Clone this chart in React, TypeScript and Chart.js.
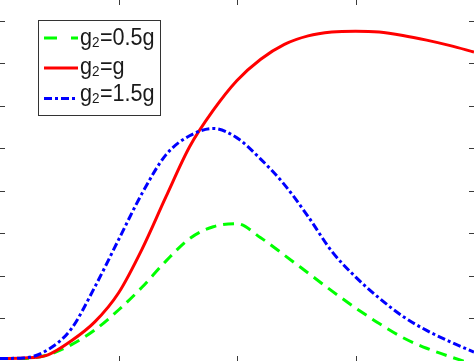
import React, { useEffect, useRef } from "react";
import { Chart, registerables } from "chart.js";

Chart.register(...registerables);

// x positions (axis units, one unit per x tick spacing)
const xValues = [0, 0.2, 0.4, 0.6, 0.8, 1.0, 1.2, 1.4, 1.6, 1.8, 2.0, 2.2, 2.4, 2.6, 2.8, 3.0, 3.2, 3.4, 3.6, 3.8, 4.0];

// series values (axis units, one unit per y tick spacing)
const g05 = [0.06, 0.06, 0.14, 0.38, 0.73, 1.2, 1.74, 2.35, 2.88, 3.16, 3.23, 2.9, 2.49, 2.07, 1.65, 1.25, 0.88, 0.55, 0.3, 0.1, -0.08];
const g10 = [0.06, 0.07, 0.14, 0.47, 0.92, 1.6, 2.64, 3.86, 5.04, 5.9, 6.6, 7.1, 7.45, 7.65, 7.74, 7.76, 7.74, 7.66, 7.55, 7.42, 7.27];
const g15 = [0.06, 0.07, 0.26, 0.75, 1.74, 2.85, 3.95, 4.85, 5.3, 5.47, 5.25, 4.75, 4.15, 3.4, 2.58, 1.98, 1.48, 1.05, 0.72, 0.45, 0.21];

const xTicks = [1, 2, 3];
const yTicks = [1, 2, 3, 4, 5, 6, 7, 8];
const xMin = 0;
const xMax = 4;
const yMin = 0;
const yMax = 8.494;

const legendRest = ["=0.5g", "=g", "=1.5g"];
const seriesColors = ["#00ff00", "#ff0000", "#0000ff"];
const seriesDashes: number[][] = [[11, 7], [], [8, 3, 3, 3]];

const toPoints = (ys: number[]) => ys.map((y, i) => ({ x: xValues[i], y }));

const tickPlugin = {
  id: "inwardTicks",
  afterDatasetsDraw(chart: any) {
    const { ctx, chartArea: a, scales } = chart;
    const x = scales.x;
    const y = scales.y;
    ctx.save();
    ctx.strokeStyle = "#3a3a3a";
    ctx.lineWidth = 1;
    ctx.beginPath();
    for (const v of xTicks) {
      const px = Math.round(x.getPixelForValue(v)) + 0.5;
      ctx.moveTo(px, a.bottom);
      ctx.lineTo(px, a.bottom - 5);
      ctx.moveTo(px, a.top);
      ctx.lineTo(px, a.top + 5);
    }
    for (const v of yTicks) {
      const py = Math.round(y.getPixelForValue(v)) + 0.5;
      ctx.moveTo(a.left, py);
      ctx.lineTo(a.left + 5, py);
      ctx.moveTo(a.right, py);
      ctx.lineTo(a.right - 5, py);
    }
    ctx.stroke();
    ctx.restore();
  },
};

const legendPlugin = {
  id: "customLegend",
  afterDraw(chart: any) {
    const { ctx } = chart;
    const left = 38.5;
    const top = 20.5;
    const right = 160.5;
    const bottom = 115.5;
    ctx.save();
    ctx.fillStyle = "#ffffff";
    ctx.fillRect(left, top, right - left, bottom - top);
    ctx.strokeStyle = "#333333";
    ctx.lineWidth = 1;
    ctx.strokeRect(left, top, right - left, bottom - top);

    const lineYs = [38, 68, 98.5];
    const baselines = [44.5, 73.5, 101];
    for (let i = 0; i < 3; i++) {
      ctx.save();
      ctx.strokeStyle = seriesColors[i];
      ctx.lineWidth = 3;
      ctx.setLineDash(i === 0 ? [13, 14] : seriesDashes[i]);
      ctx.beginPath();
      ctx.moveTo(44, lineYs[i]);
      ctx.lineTo(78, lineYs[i]);
      ctx.stroke();
      ctx.restore();

      ctx.save();
      ctx.translate(80, baselines[i]);
      ctx.scale(0.9, 1);
      ctx.fillStyle = "#1a1a1a";
      ctx.textBaseline = "alphabetic";
      ctx.font = '24px "Liberation Sans", Arial, Helvetica, sans-serif';
      ctx.fillText("g", 0, 0);
      const w1 = ctx.measureText("g").width;
      ctx.font = '15px "Liberation Sans", Arial, Helvetica, sans-serif';
      ctx.fillText("2", w1, 2);
      const w2 = ctx.measureText("2").width;
      ctx.font = '24px "Liberation Sans", Arial, Helvetica, sans-serif';
      ctx.fillText(legendRest[i], w1 + w2 + 0.5, 0);
      ctx.restore();
    }
    ctx.restore();
  },
};

export default function App() {
  const ref = useRef<HTMLCanvasElement | null>(null);

  useEffect(() => {
    if (!ref.current) return;
    const chart = new Chart(ref.current, {
      type: "line",
      data: {
        datasets: [
          {
            label: "g2=0.5g",
            data: toPoints(g05),
            borderColor: seriesColors[0],
            borderWidth: 3,
            borderDash: seriesDashes[0],
            pointRadius: 0,
            cubicInterpolationMode: "monotone",
            fill: false,
            order: 3,
          },
          {
            label: "g2=g",
            data: toPoints(g10),
            borderColor: seriesColors[1],
            borderWidth: 3,
            borderDash: seriesDashes[1],
            pointRadius: 0,
            cubicInterpolationMode: "monotone",
            fill: false,
            order: 2,
          },
          {
            label: "g2=1.5g",
            data: toPoints(g15),
            borderColor: seriesColors[2],
            borderWidth: 3,
            borderDash: seriesDashes[2],
            pointRadius: 0,
            cubicInterpolationMode: "monotone",
            fill: false,
            order: 1,
          },
        ],
      },
      options: {
        animation: false,
        responsive: false,
        maintainAspectRatio: false,
        layout: { padding: 0 },
        plugins: { legend: { display: false }, tooltip: { enabled: false } },
        scales: {
          x: { type: "linear", min: xMin, max: xMax, display: false },
          y: { type: "linear", min: yMin, max: yMax, display: false },
        },
      },
      plugins: [tickPlugin, legendPlugin],
    });
    return () => chart.destroy();
  }, []);

  return (
    <div style={{ position: "fixed", left: 0, top: 0, width: 474, height: 361, background: "#ffffff" }}>
      <canvas ref={ref} width={474} height={361} style={{ display: "block", width: 474, height: 361 }} />
    </div>
  );
}
